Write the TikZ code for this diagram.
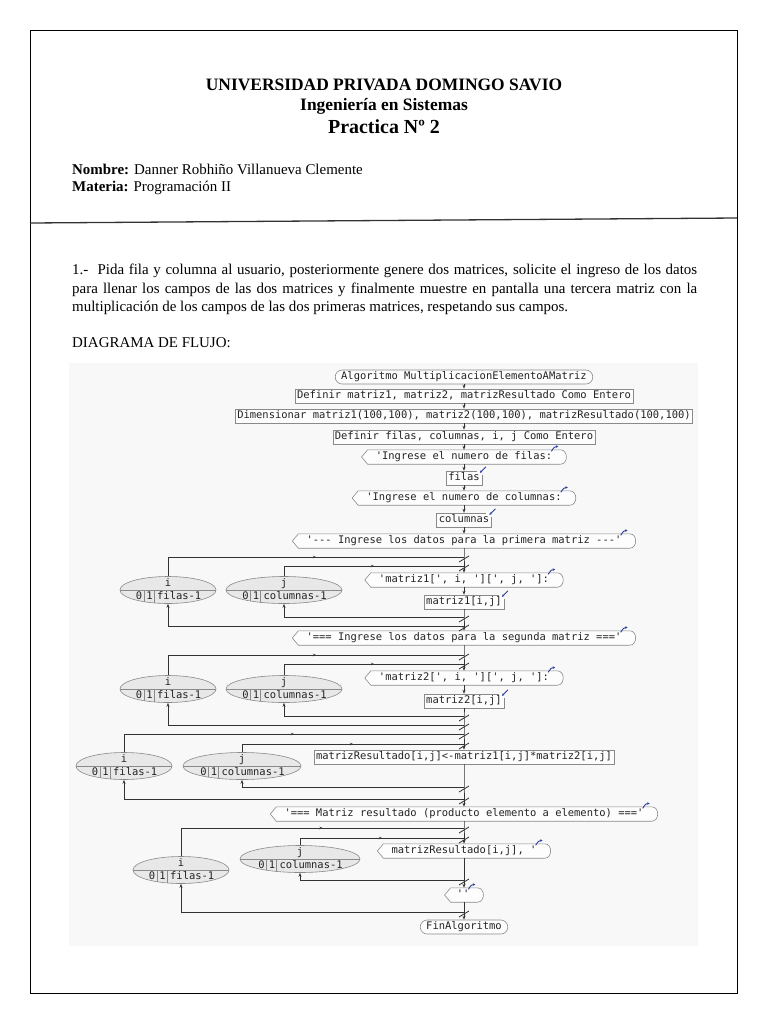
\documentclass[tikz,border=0pt]{standalone}
\usepackage{fontspec}
\setmainfont{Liberation Serif}
\newfontfamily\monof[Ligatures=TeXOff]{DejaVu Sans Mono}
\usetikzlibrary{arrows.meta,calc,decorations.markings,shapes.geometric}
\definecolor{flowc}{HTML}{333333}
\definecolor{boxc}{HTML}{8A8A8A}
\definecolor{boxfill}{HTML}{FDFDFD}
\definecolor{ellfill}{HTML}{E8E8E8}
\definecolor{glyphc}{HTML}{2B3C9B}
\definecolor{txtc}{HTML}{222222}
\definecolor{bgc}{HTML}{F8F8F8}
\pgfdeclarelayer{bgl}
\pgfdeclarelayer{shp}
\pgfsetlayers{bgl,shp,main}
\tikzset{
 ftext/.style={font=\monof\fontsize{10.5}{12}\selectfont, text=txtc, inner sep=0pt, text height=7.8bp, text depth=2.2bp},
 procbox/.style={ftext, draw=boxc, fill=boxfill, inner xsep=2bp, minimum height=14bp, line width=0.6bp},
 termbox/.style={procbox, rounded corners=7bp, inner xsep=6bp},
 outtext/.style={ftext, inner xsep=8bp, minimum height=14bp},
 outline/.style={draw=boxc, fill=boxfill, line width=0.6bp},
 inbox/.style={ftext, inner xsep=2bp, minimum height=14bp},
 loopell/.style={ellipse, draw=boxc, fill=ellfill, minimum height=27bp, inner sep=0pt, line width=0.6bp},
 cell/.style={ftext, inner xsep=2bp},
 cellline/.style={draw=boxc, line width=0.6bp},
 flow/.style={draw=flowc, line width=0.8bp},
 arr/.style={flow, -{Stealth[length=4bp,width=3bp]}},
 tickmark/.style={draw=flowc, line width=0.8bp},
 midarr/.style={postaction={decorate}, decoration={markings, mark=at position 0.5 with {\arrow{Stealth[length=3bp,width=2.5bp]}}}},
 glyph/.style={draw=glyphc, line width=0.9bp, -{Stealth[length=2.5bp,width=2.5bp]}},
 hdr/.style={font=\bfseries\fontsize{17.5}{20}\selectfont, anchor=base, inner sep=0pt},
 body/.style={font=\fontsize{15}{18}\selectfont, anchor=base west, inner sep=0pt},
}
\newcommand\outshape[1]{%
 \begin{pgfonlayer}{shp}
 \path[outline] ([xshift=-6bp]#1.west) -- (#1.north west) -- (#1.north east) .. controls ([xshift=8bp]#1.north east) and ([xshift=8bp]#1.south east) .. (#1.south east) -- (#1.south west) -- cycle;
 \end{pgfonlayer}
 \draw[glyph] ([xshift=-9bp,yshift=-1.5bp]#1.north east) .. controls ([xshift=-6bp,yshift=3bp]#1.north east) .. ([xshift=-2bp,yshift=3.5bp]#1.north east);
}
\newcommand\inshape[1]{%
 \begin{pgfonlayer}{shp}
 \fill[boxfill] (#1.north west) rectangle (#1.south east);
 \draw[cellline] ([xshift=-5bp]#1.north east) -- (#1.north west) -- (#1.south west) -- (#1.south east) -- ([yshift=-4bp]#1.north east);
 \end{pgfonlayer}
 \draw[glyph] ([xshift=4bp,yshift=4bp]#1.north east) -- ([xshift=-2bp,yshift=-2bp]#1.north east);
}
\newcommand\forloop[7]{%
 \node[loopell, minimum width=#4bp] (#1) at (#2,#3) {};
 \begin{scope}
 \clip (#2,#3) ellipse [x radius=#4/2, y radius=13.5];
 \draw[cellline] ($(#1.center)+(-#4,0)$) -- ($(#1.center)+(#4,0)$);
 \draw[cellline] ($(#1.center)+(#7+10.32,0)$) -- ++(0,20);
 \draw[cellline] ($(#1.center)+(#7+20.64,0)$) -- ++(0,20);
 \end{scope}
 \node[ftext] (#1v) at ($(#1.center)+(0,-6.5)$) {#5};
 \node[cell,anchor=west] (#1a) at ($(#1.center)+(#7,6.5)$) {0};
 \node[cell,anchor=west] (#1b) at (#1a.east) {1};
 \node[cell,anchor=west] (#1c) at (#1b.east) {#6};
}
\newcommand\tickat[1]{\draw[tickmark] ($(#1)+(-5,5)$) -- ($(#1)+(5,-1)$);}
\newcommand\loopwires[6]{% ell-i, ell-j, top-outer, top-inner, bot-inner, bot-outer
 \draw[flow] (#1.north) -- (#1.north |- #3);
 \draw[flow,midarr] (#1.north |- #3) -- (#3);
 \draw[flow] (#2.north) -- (#2.north |- #4);
 \draw[flow,midarr] (#2.north |- #4) -- (#4);
 \draw[arr] (#5) -| (#2.south);
 \draw[arr] (#6) -| (#1.south);
 \tickat{#3}\tickat{#4}\tickat{#5}\tickat{#6}
}
\begin{document}
\begin{tikzpicture}[x=1bp,y=-1bp]
\path[use as bounding box] (0,0) rectangle (768,1024);
\begin{pgfonlayer}{bgl}
\fill[white] (0,0) rectangle (768,1024);
\fill[bgc] (69,363) rectangle (698,946);
\end{pgfonlayer}
\draw[line width=1bp] (30,30) rectangle (737,993);
\draw[line width=1.3bp, black!80] (30,223) -- (737,218);

% header
\node[hdr] (t1) at (384,90) {UNIVERSIDAD PRIVADA DOMINGO SAVIO};
\node[hdr] (t2) at (384,110) {Ingeniería en Sistemas};
\node[hdr, font=\bfseries\fontsize{20}{24}\selectfont] (t3) at (384,133) {Practica Nº 2};
\node[body] (nm) at (72,174) {\textbf{Nombre:} Danner Robhiño Villanueva Clemente};
\node[body] (mt) at (72,191) {\textbf{Materia:} Programación II};
\node[anchor=north west, text width=625bp, align=justify, inner sep=0pt, font=\fontsize{15}{18.5}\selectfont] (par) at (72,264)
 {\noindent 1.-\ \ Pida fila y columna al usuario, posteriormente genere dos matrices, solicite el ingreso de los datos\linebreak para llenar los campos de las dos matrices y finalmente muestre en pantalla una tercera matriz con la\linebreak multiplicación de los campos de las dos primeras matrices, respetando sus campos.};
\node[body] (dg) at (72,347) {DIAGRAMA DE FLUJO:};

% flowchart main column
\node[termbox] (a0) at (464,377) {Algoritmo MultiplicacionElementoAMatriz};
\node[procbox] (a1) at (464,396) {Definir matriz1, matriz2, matrizResultado Como Entero};
\node[procbox] (a2) at (464,416) {Dimensionar matriz1(100,100), matriz2(100,100), matrizResultado(100,100)};
\node[procbox] (a3) at (464,437) {Definir filas, columnas, i, j Como Entero};
\node[outtext] (o1) at (464,457) {'Ingrese el numero de filas:\ };
\node[inbox] (r1) at (464,478) {filas};
\node[outtext] (o2) at (464,498) {'Ingrese el numero de columnas:\ };
\node[inbox] (r2) at (464,520) {columnas};
\node[outtext] (o3) at (464,541) {'--- Ingrese los datos para la primera matriz ---'};
\node[outtext] (o4) at (464,580) {'matriz1[', i, '][', j, ']:\ };
\node[inbox] (r3) at (464,602) {matriz1[i,j]};
\node[outtext] (o5) at (464,638) {'=== Ingrese los datos para la segunda matriz ==='};
\node[outtext] (o6) at (464,678) {'matriz2[', i, '][', j, ']:\ };
\node[inbox] (r4) at (464,701) {matriz2[i,j]};
\node[procbox] (r5) at (464,757) {matrizResultado[i,j]<-matriz1[i,j]*matriz2[i,j]};
\node[outtext] (o7) at (464,814) {'=== Matriz resultado (producto elemento a elemento) ==='};
\node[outtext] (o8) at (464,851) {matrizResultado[i,j], '\ };
\node[outtext, inner xsep=6bp] (o9) at (464,895) {''\,};
\node[termbox] (fin) at (464,927) {FinAlgoritmo};
\foreach \n in {o1,o2,o3,o4,o5,o6,o7,o8,o9} {\outshape{\n}}
\foreach \n in {r1,r2,r3,r4} {\inshape{\n}}

% loop ellipses
\forloop{e1i}{168}{590}{96}{i}{filas-1}{-34.4}
\forloop{e1j}{284}{590}{116}{j}{columnas-1}{-43.9}
\forloop{e2i}{168}{689}{96}{i}{filas-1}{-34.4}
\forloop{e2j}{284}{689}{116}{j}{columnas-1}{-43.9}
\forloop{e3i}{124}{766}{96}{i}{filas-1}{-34.4}
\forloop{e3j}{242}{766}{118}{j}{columnas-1}{-43.9}
\forloop{e4i}{181}{870}{96}{i}{filas-1}{-34.4}
\forloop{e4j}{300}{859}{120}{j}{columnas-1}{-43.9}

% junction coordinates
\coordinate (L1a) at (464,557); \coordinate (L1b) at (464,566);
\coordinate (L1c) at (464,617); \coordinate (L1d) at (464,626);
\coordinate (L2a) at (464,655); \coordinate (L2b) at (464,664);
\coordinate (L2c) at (464,716); \coordinate (L2d) at (464,725);
\coordinate (L3a) at (464,734); \coordinate (L3b) at (464,744);
\coordinate (L3c) at (464,787); \coordinate (L3d) at (464,799);
\coordinate (L4a) at (464,828); \coordinate (L4b) at (464,838);
\coordinate (L4c) at (464,880); \coordinate (L4d) at (464,912);

% main axis
\draw[arr] (a0) -- (a1);
\draw[arr] (a1) -- (a2);
\draw[arr] (a2) -- (a3);
\draw[arr] (a3) -- (o1);
\draw[arr] (o1) -- (r1);
\draw[arr] (r1) -- (o2);
\draw[arr] (o2) -- (r2);
\draw[arr] (r2) -- (o3);
\draw[flow] (o3) -- (L1a) -- (L1b);
\draw[arr] (L1b) -- (o4);
\draw[arr] (o4) -- (r3);
\draw[flow] (r3) -- (L1c) -- (L1d);
\draw[arr] (L1d) -- (o5);
\draw[flow] (o5) -- (L2a) -- (L2b);
\draw[arr] (L2b) -- (o6);
\draw[arr] (o6) -- (r4);
\draw[flow] (r4) -- (L2c) -- (L2d) -- (L3a) -- (L3b);
\draw[arr] (L3b) -- (r5);
\draw[flow] (r5) -- (L3c) -- (L3d);
\draw[arr] (L3d) -- (o7);
\draw[flow] (o7) -- (L4a) -- (L4b);
\draw[arr] (L4b) -- (o8);
\draw[flow] (o8) -- (L4c);
\draw[arr] (L4c) -- (o9);
\draw[flow] (o9) -- (L4d);
\draw[arr] (L4d) -- (fin);

% loop wires
\loopwires{e1i}{e1j}{L1a}{L1b}{L1c}{L1d}
\loopwires{e2i}{e2j}{L2a}{L2b}{L2c}{L2d}
\loopwires{e3i}{e3j}{L3a}{L3b}{L3c}{L3d}
\loopwires{e4i}{e4j}{L4a}{L4b}{L4c}{L4d}
\end{tikzpicture}
\end{document}
